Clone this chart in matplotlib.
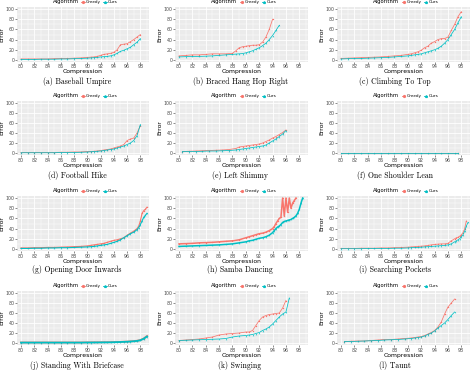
import numpy as np
import matplotlib
matplotlib.use('Agg')
import matplotlib.pyplot as plt
from matplotlib.lines import Line2D
from matplotlib.ticker import MultipleLocator

nan = np.nan

titles = ["(a) Baseball Umpire", "(b) Braced Hang Hop Right", "(c) Climbing To Top",
          "(d) Football Hike", "(e) Left Shimmy", "(f) One Shoulder Lean",
          "(g) Opening Door Inwards", "(h) Samba Dancing", "(i) Searching Pockets",
          "(j) Standing With Briefcase", "(k) Swinging", "(l) Taunt"]
series_names = ["Greedy", "Ours"]
x_ticks = [80, 82, 84, 86, 88, 90, 92, 94, 96, 98]
y_ticks = [0, 20, 40, 60, 80, 100]

# (a)
x_a = [80, 81, 82, 83, 84, 85, 86, 87, 88, 89, 90, 90.5, 91, 91.5, 92, 92.5, 93, 93.5, 94, 94.5, 95, 95.5, 96, 96.5, 97, 97.5, 98]
greedy_a = [2, 2, 2, 2, 2, 2.5, 3, 3, 3.5, 4, 5, 5.5, 6, 7, 9, 11, 12, 13, 15, 20, 30, 31, 32, 36, 40, 45, 50]
ours_a = [1, 1, 1, 1.5, 1.5, 1.5, 2, 2, 2.5, 3, 3.5, 4, 4.5, 5, 6, 6.5, 7, 8, 10, 13, 17, 19, 22, 25, 30, 35, 42]
# (b)
x_b = [80, 81, 82, 83, 84, 85, 86, 87, 88, 88.5, 89, 89.5, 90, 90.5, 91, 91.5, 92, 92.5, 93, 93.5, 94, 94.5, 95]
greedy_b = [8, 9, 10, 10, 11, 12, 12, 12, 13, 18, 24, 26, 27, 28, 29, 29, 30, 35, 45, 60, 80, nan, nan]
ours_b = [6, 6.5, 7, 7, 7.5, 8, 9, 10, 11, 11.5, 12, 12.5, 14, 16, 18, 21, 24, 28, 33, 40, 48, 58, 68]
# (c)
x_c = [80, 81, 82, 83, 84, 85, 86, 87, 88, 89, 90, 90.5, 91, 91.5, 92, 92.5, 93, 93.5, 94, 94.5, 95, 95.5, 96, 96.5, 97, 97.5, 98]
greedy_c = [3, 3.5, 4, 4.5, 5, 5.5, 6, 7, 8, 9, 11, 12, 14, 16, 19, 24, 27, 33, 36, 40, 42, 42, 45, 58, 70, 85, 95]
ours_c = [2, 2.5, 3, 3, 3.5, 4, 4.5, 5, 6, 7, 8, 9, 10, 11, 12, 14, 16, 18, 20, 23, 27, 33, 40, 50, 60, 73, 85]
# (d)
x_d = [80, 81, 82, 83, 84, 85, 86, 87, 88, 89, 90, 90.5, 91, 91.5, 92, 92.5, 93, 93.5, 94, 94.5, 95, 95.5, 96, 96.5, 97, 97.5, 98]
greedy_d = [1, 1, 1, 1, 1, 1, 1.5, 1.5, 2, 2, 3, 3, 3.5, 4, 5, 6, 7, 8, 10, 12, 14, 17, 25, 28, 30, 40, 55]
ours_d = [0.5, 0.5, 0.5, 0.5, 0.5, 0.5, 1, 1, 1, 1.5, 2, 2.5, 3, 3.5, 4, 5, 6, 7, 8, 10, 12, 14, 17, 20, 25, 35, 57]
# (e)
x_e = [80.5, 81.5, 82.5, 83.5, 84.5, 85.5, 86.5, 87.5, 88.5, 89, 89.5, 90, 90.5, 91, 91.5, 92, 92.5, 93, 93.5, 94, 94.5, 95, 95.5, 96]
greedy_e = [3, 3.5, 4, 4.5, 5, 5.5, 6, 7, 9, 12, 13, 14, 15, 16, 17, 18, 20, 23, 26, 30, 33, 37, 41, 46]
ours_e = [3, 3, 3, 3.5, 4, 4, 4.5, 5, 6, 7, 8, 9, 10, 11, 12, 13, 14, 16, 20, 24, 28, 33, 38, 45]
# (f)
x_f = [80, 81, 82, 83, 84, 85, 86, 87, 88, 89, 90, 91, 92, 93, 94, 95, 96, 97, 97.5]
greedy_f = [1, 1, 1, 1, 1, 1, 1, 1, 1, 1, 1, 1, 1, 1, 1, 1, 1, 1, 1]
ours_f = [0.8, 0.8, 0.8, 0.8, 0.8, 0.8, 0.8, 0.8, 0.8, 0.8, 0.8, 0.8, 0.8, 0.8, 0.8, 0.8, 0.8, 0.8, 0.8]
# (g)
x_g = [80, 81, 82, 83, 84, 85, 86, 87, 88, 89, 90, 90.5, 91, 91.5, 92, 92.5, 93, 93.5, 94, 94.5, 95, 95.5, 96, 96.5, 97, 97.5, 97.75, 98, 98.25, 98.5, 98.75, 99]
greedy_g = [2, 2, 2.5, 2.5, 3, 3, 3.5, 4, 4.5, 5, 6, 7, 8, 9, 10, 11, 13, 15, 17, 18, 20, 22, 27, 31, 35, 40, 45, 55, 70, 75, 78, 82]
ours_g = [1, 1, 1.5, 1.5, 2, 2, 2.5, 2.5, 3, 3.5, 4, 4.5, 5, 6, 7, 8, 9, 11, 13, 15, 18, 22, 26, 30, 33, 38, 42, 48, 55, 62, 66, 70]
# (h)
x_h = [80, 81, 82, 83, 84, 85, 86, 87, 88, 89, 90, 90.5, 91, 91.5, 92, 92.5, 93, 93.5, 94,
       94.25, 94.5, 94.75, 95, 95.25, 95.5, 95.75, 96, 96.25, 96.5, 96.75, 97, 97.25, 97.5, 97.75, 98, 98.25, 98.5]
greedy_h = [10, 10.5, 11, 12, 12.5, 13, 14, 15, 16, 18, 22, 24, 26, 28, 30, 31, 33, 36, 40,
            44, 50, 55, 60, 62, 100, 65, 100, 72, 100, 80, 90, 95, 100, nan, nan, nan, nan]
ours_h = [5, 5.5, 6, 6.5, 7, 7.5, 8, 9, 10, 12, 14, 16, 17, 19, 21, 22, 24, 27, 32,
          36, 40, 43, 45, 48, 52, 54, 55, 56, 57, 58, 60, 62, 65, 70, 78, 90, 100]
# (i)
x_i = [80, 81, 82, 83, 84, 85, 86, 87, 88, 89, 90, 90.5, 91, 91.5, 92, 92.5, 93, 93.5, 94, 94.5, 95, 95.5, 96, 96.5, 97,
       97.25, 97.5, 97.75, 98, 98.25, 98.5, 98.75, 99]
greedy_i = [1, 1, 1, 1.5, 1.5, 1.5, 2, 2, 2.5, 3, 3.5, 4, 4.5, 5, 5.5, 6, 7, 8, 9, 9.5, 10, 10, 11, 16, 20,
            22, 23, 25, 28, 32, 40, 55, nan]
ours_i = [0.5, 0.5, 0.5, 0.5, 1, 1, 1, 1, 1.5, 1.5, 2, 2.5, 3, 3, 3.5, 4, 4.5, 5, 5.5, 6, 6.5, 7, 8, 10, 14,
          16, 18, 20, 24, 28, 35, 45, 52]
# (j)
x_j = [80, 81, 82, 83, 84, 85, 86, 87, 88, 89, 90, 90.5, 91, 91.5, 92, 92.5, 93, 93.5, 94, 94.5, 95, 95.5, 96, 96.5, 97, 97.5, 98, 98.5, 99]
greedy_j = [1, 1, 1, 1, 1, 1, 1, 1, 1, 1, 1.2, 1.2, 1.3, 1.3, 1.4, 1.5, 1.5, 1.6, 1.8, 2, 2.2, 2.5, 2.8, 3.2, 3.8, 4.5, 6, 9, 14]
ours_j = [0.8, 0.8, 0.8, 0.8, 0.8, 0.8, 0.8, 0.8, 0.8, 0.8, 1, 1, 1.1, 1.1, 1.2, 1.3, 1.3, 1.4, 1.6, 1.8, 2, 2.3, 2.6, 3, 3.5, 4.2, 5.5, 8.5, 13]
# (k)
x_k = [80, 81, 82, 83, 84, 85, 86, 87, 88, 89, 90, 90.5, 91, 91.5, 92, 92.5, 93, 93.5, 94, 94.5, 95, 95.5, 96, 96.5]
greedy_k = [5, 6, 7, 8, 10, 12, 16, 18, 19, 20, 22, 22, 25, 35, 45, 52, 55, 57, 58, 59, 60, 70, 85, nan]
ours_k = [5, 5.5, 6, 6.5, 7, 7.5, 8, 9, 12, 14, 15, 16, 17, 19, 21, 25, 28, 32, 38, 45, 52, 58, 62, 90]
# (l)
x_l = [80.5, 81.5, 82.5, 83.5, 84.5, 85.5, 86.5, 87.5, 88.5, 89.5, 90.5, 91, 91.5, 92, 92.5, 93, 93.5, 94, 94.5, 95, 95.5, 96, 96.5, 97]
greedy_l = [3, 3.5, 4, 4, 5, 6, 7, 7, 8, 9, 10, 11, 12, 13, 15, 18, 21, 25, 32, 42, 58, 72, 80, 88]
ours_l = [3, 3, 3.5, 4, 4.5, 5, 6, 6.5, 7, 8, 9, 10, 11, 12, 14, 17, 20, 24, 30, 35, 40, 47, 55, 62]

panels = [(x_a, greedy_a, ours_a), (x_b, greedy_b, ours_b), (x_c, greedy_c, ours_c),
          (x_d, greedy_d, ours_d), (x_e, greedy_e, ours_e), (x_f, greedy_f, ours_f),
          (x_g, greedy_g, ours_g), (x_h, greedy_h, ours_h), (x_i, greedy_i, ours_i),
          (x_j, greedy_j, ours_j), (x_k, greedy_k, ours_k), (x_l, greedy_l, ours_l)]

# styling / layout
C_G = '#F8766D'
C_O = '#00BFC4'
thick = {7: 1.1, 9: 1.3, 6: 0.8}
W, H = 474.0, 371.0
col_left = [17, 175, 337]
col_right = [149, 308, 470]
row_top = [7, 101, 196, 291]
row_bot = [62, 155, 251, 345]
cap_x = [77, 240, 395]
cap_y = [81, 175, 270, 365]

fig = plt.figure(figsize=(4.74, 3.71), dpi=100)

for idx, (xs, gs, os_) in enumerate(panels):
    r, c = divmod(idx, 3)
    l, rr = col_left[c], col_right[c]
    t, b = row_top[r], row_bot[r]
    ax = fig.add_axes([l / W, 1 - b / H, (rr - l) / W, (b - t) / H])
    ax.set_facecolor('#EBEBEB')
    for s in ax.spines.values():
        s.set_visible(False)
    ax.set_xlim(79.4, 99.3)
    ax.set_ylim(-4, 104)
    ax.set_xticks(x_ticks)
    ax.set_yticks(y_ticks)
    ax.xaxis.set_minor_locator(MultipleLocator(1))
    ax.yaxis.set_minor_locator(MultipleLocator(10))
    ax.grid(which='major', color='white', lw=0.6)
    ax.grid(which='minor', color='white', lw=0.3)
    ax.set_axisbelow(True)
    ax.tick_params(which='major', labelsize=3.4, labelcolor='#4D4D4D', length=1.3,
                   width=0.4, color='#333333', pad=0.5)
    ax.tick_params(which='minor', length=0)
    ax.set_xlabel('Compression', fontsize=4.4, labelpad=0.0)
    ax.set_ylabel('Error', fontsize=4.4, labelpad=0.5)
    lw = thick.get(idx, 0.55)
    ax.plot(xs, gs, color=C_G, lw=lw, marker='o', ms=1.0, mew=0, zorder=3)
    ax.plot(xs, os_, color=C_O, lw=lw, marker='^', ms=1.1, mew=0, zorder=4)
    handles = [Line2D([], [], linestyle='none'),
               Line2D([], [], color=C_G, marker='o', ms=1.3, lw=0.6),
               Line2D([], [], color=C_O, marker='^', ms=1.3, lw=0.6)]
    leg = ax.legend(handles, ['Algorithm'] + series_names, ncol=3, loc='center',
                    bbox_to_anchor=(0.5, 1.1), frameon=False, fontsize=3.0,
                    handlelength=0.8, handletextpad=0.3, columnspacing=0.6,
                    borderpad=0, borderaxespad=0)
    leg.get_texts()[0].set_fontsize(3.8)
    fig.text(cap_x[c] / W, 1 - cap_y[r] / H, titles[idx], family='cmr10',
             fontsize=5.6, ha='center', va='center')

fig.savefig('out.png', dpi=100)
